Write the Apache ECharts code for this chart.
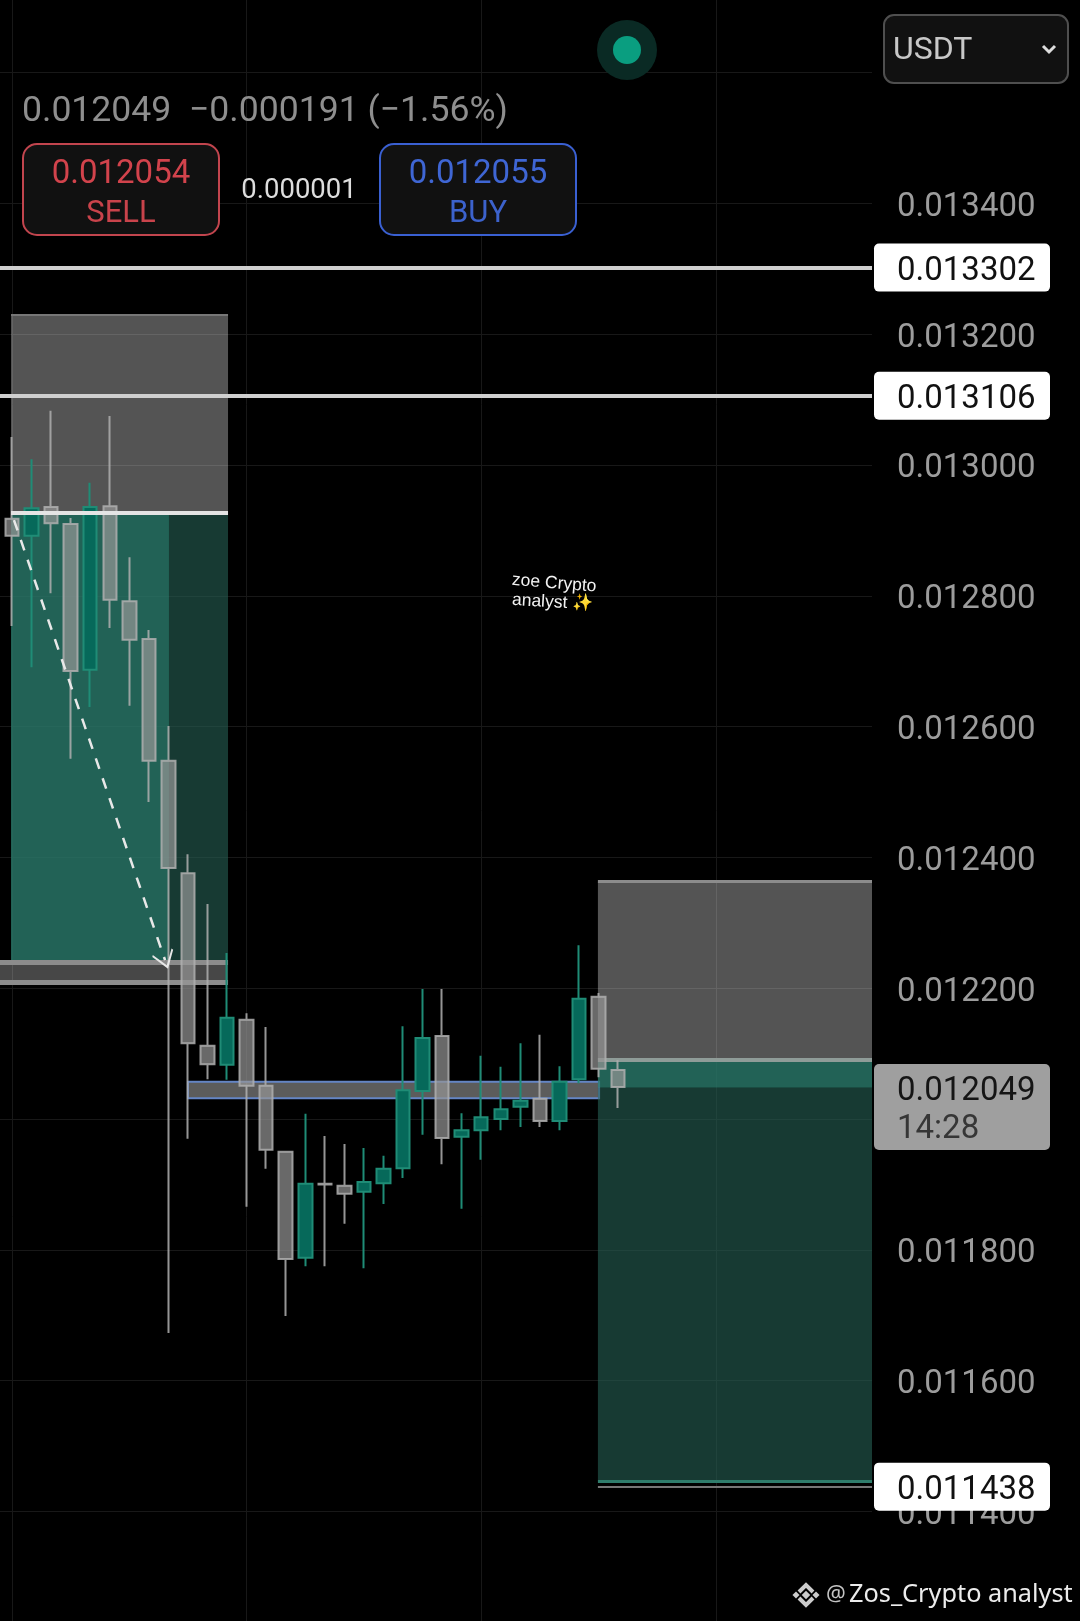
<!DOCTYPE html>
<html lang="en">
<head>
    <meta charset="UTF-8">
    <title>Zoe Crypto chart</title>
    <style>
        html, body {margin: 0; padding: 0; background: #000;}
        #main {width: 1080px; height: 1621px;}
    </style>
</head>
<body>
<div id="main"></div>
<script src="https://cdn.jsdelivr.net/npm/echarts@6/dist/echarts.min.js"></script>
<script>
    var opens  = [0.012918, 0.012892, 0.012936, 0.012910, 0.012687, 0.012937, 0.012792, 0.012734, 0.012548, 0.012376, 0.012112, 0.012083, 0.012152, 0.012051, 0.011950, 0.011788, 0.011901, 0.011898, 0.011889, 0.011902, 0.011925, 0.012043, 0.012127, 0.011973, 0.011983, 0.012000, 0.012019, 0.012031, 0.011997, 0.012061, 0.012187, 0.012075];
    var closes = [0.012892, 0.012934, 0.012911, 0.012685, 0.012936, 0.012794, 0.012733, 0.012548, 0.012384, 0.012116, 0.012084, 0.012155, 0.012051, 0.011953, 0.011786, 0.011901, 0.011900, 0.011886, 0.011904, 0.011924, 0.012044, 0.012124, 0.011971, 0.011983, 0.012003, 0.012015, 0.012028, 0.011997, 0.012057, 0.012184, 0.012077, 0.012049];
    var lows   = [0.012754, 0.012691, 0.012804, 0.012551, 0.012630, 0.012751, 0.012632, 0.012485, 0.011673, 0.011970, 0.012061, 0.012060, 0.011866, 0.011924, 0.011699, 0.011775, 0.011775, 0.011840, 0.011772, 0.011870, 0.011910, 0.011976, 0.011931, 0.011863, 0.011938, 0.011983, 0.011988, 0.011988, 0.011983, 0.012055, 0.012064, 0.012017];
    var highs  = [0.013043, 0.013009, 0.013083, 0.012919, 0.012973, 0.013075, 0.012859, 0.012748, 0.012601, 0.012405, 0.012329, 0.012254, 0.012162, 0.012141, 0.011950, 0.012008, 0.011974, 0.011962, 0.011956, 0.011944, 0.012142, 0.012199, 0.012199, 0.012009, 0.012097, 0.012080, 0.012116, 0.012129, 0.012081, 0.012266, 0.012193, 0.012090];

    // horizontal price lines with a white tag on the scale
    var priceLines = [0.013302, 0.013106];
    var lastPrice = 0.012049;
    var lastCountdown = '14:28';
    var targetPrice = 0.011438;

    // left position: [from bar, to bar, split bar], prices top to bottom
    var leftBars = [-0.05, 11.05, 8.03];
    var leftPrices = [0.013230, 0.012927, 0.012240];
    var leftBand = [0.012240, 0.012209];
    // blue support band
    var blueBars = [9, 30.03];
    var bluePrices = [0.012057, 0.012032];
    // right position
    var rightBar = 29.97;
    var rightPrices = [0.012363, 0.012090, 0.012048, 0.011447];

    // dashed arrow: [bar, price]
    var arrowFrom = [0.1, 0.012916];
    var arrowTo = [7.83, 0.012243];

    var gridBars = [0, 12, 24, 36];

    // highest tick label the app shows, the next one is behind the selector
    var topLabel = 0.0134;

    // scale: bar i sits at 12 + 19.55 * i, plot runs 0..872
    var xMin = -12 / 19.55;
    var xMax = 860 / 19.55;

    var font = 'Roboto';
    var candles = opens.map(function (o, i) {
        return [i, o, closes[i], lows[i], highs[i]];
    });

    function tag(value, text, bg, padding, rich, offset) {
        return {
            yAxis: value,
            lineStyle: {color: 'transparent', width: 0},
            label: {
                show: true,
                position: 'end',
                distance: 2,
                opacity: 1,
                formatter: text,
                backgroundColor: bg,
                borderRadius: 5,
                fontFamily: font,
                fontSize: 33,
                color: '#111',
                align: 'left',
                verticalAlign: 'middle',
                padding: padding,
                width: 140,
                rich: rich,
                offset: offset || [0, 0]
            }
        };
    }

    function seg(x1, y1, x2, y2, color, width) {
        return [
            {coord: [x1, y1], lineStyle: {color: color, width: width, type: 'solid', opacity: 1}},
            {coord: [x2, y2]}
        ];
    }

    function area(x1, y1, x2, y2, color, border, bw) {
        return [
            {coord: [x1, y1], itemStyle: {color: color, borderColor: border || 'transparent', borderWidth: bw || 0}},
            {coord: [x2, y2]}
        ];
    }

    var tagRich = {t: {fontFamily: font, fontSize: 33, color: '#111', lineHeight: 33, width: 140}};
    var tagPad = [11.5, 13, 3.5, 23];
    var priceTags = priceLines.map(function (p) {
        return tag(p, '{t|' + p.toFixed(6) + '}', '#fff', tagPad, tagRich);
    });
    priceTags.push(tag(targetPrice, '{t|' + targetPrice.toFixed(6) + '}', '#fff', tagPad, tagRich));
    priceTags.push(tag(lastPrice, '{a|' + lastPrice.toFixed(6) + '}\n{b|' + lastCountdown + '}', '#9f9f9f', [9, 13, 1, 23], {
        a: {fontFamily: font, fontSize: 33, color: '#151515', lineHeight: 38, width: 140},
        b: {fontFamily: font, fontSize: 33, color: '#363636', lineHeight: 38, width: 140}
    }, [0, 20]));

    var option = {
        backgroundColor: '#000',
        animation: false,
        grid: {left: 0, right: 208, top: -188.9, height: 1962, outerBoundsMode: 'none', containLabel: false},
        xAxis: {
            type: 'value',
            min: xMin,
            max: xMax,
            show: false,
            splitLine: {show: false}
        },
        yAxis: {
            type: 'value',
            position: 'right',
            min: 0.011,
            max: 0.014,
            interval: 0.0002,
            axisLine: {show: false},
            axisTick: {show: false},
            splitLine: {lineStyle: {color: '#181818', width: 1}},
            axisLabel: {
                margin: 25,
                fontFamily: font,
                fontSize: 33,
                color: '#9c9c9c',
                rich: {
                    v: {fontFamily: font, fontSize: 33, color: '#9c9c9c', lineHeight: 33, padding: [8, 0, 0, 0]}
                },
                formatter: function (v) {
                    return v > topLabel + 0.00001 ? '' : '{v|' + v.toFixed(6) + '}';
                }
            }
        },
        series: [
            {
                // vertical grid lines
                type: 'line',
                data: [],
                z: 1,
                silent: true,
                markLine: {
                    z: 1,
                    silent: true,
                    symbol: 'none',
                    label: {show: false},
                    lineStyle: {color: '#181818', width: 1, type: 'solid'},
                    data: gridBars.map(function (b) {
                        return {xAxis: b};
                    })
                }
            },
            {
                // position zones
                type: 'line',
                data: [],
                z: 2,
                silent: true,
                markArea: {
                    z: 2,
                    silent: true,
                    data: [
                        area(leftBars[0], leftPrices[0], leftBars[1], leftPrices[1], 'rgba(255,255,255,0.33)'),
                        area(leftBars[0], leftPrices[1], leftBars[2], leftPrices[2], 'rgba(42,122,107,0.8)'),
                        area(leftBars[2], leftPrices[1], leftBars[1], leftPrices[2], 'rgba(38,96,85,0.6)'),
                        area(xMin, leftBand[0], leftBars[1], leftBand[1], 'rgba(255,255,255,0.28)'),
                        area(blueBars[0], bluePrices[0], blueBars[1], bluePrices[1], 'rgba(255,255,255,0.36)', '#6485c5', 2),
                        area(rightBar, rightPrices[0], xMax, rightPrices[1], 'rgba(255,255,255,0.33)'),
                        area(rightBar, rightPrices[1], xMax, rightPrices[2], 'rgba(42,122,107,0.8)'),
                        area(rightBar, rightPrices[2], xMax, rightPrices[3], 'rgba(38,96,85,0.6)')
                    ]
                },
                markLine: {
                    z: 3,
                    silent: true,
                    symbol: 'none',
                    label: {show: false},
                    data: [
                        seg(leftBars[0], leftPrices[0], leftBars[1], leftPrices[0], '#777', 2),
                        seg(xMin, leftBand[0], leftBars[1], leftBand[0], '#8c8c8c', 5),
                        seg(xMin, leftBand[1], leftBars[1], leftBand[1], '#8c8c8c', 5),
                        seg(rightBar, rightPrices[0], xMax, rightPrices[0], '#8c8c8c', 3),
                        seg(rightBar, rightPrices[1], xMax, rightPrices[1], '#8f9c98', 4),
                        seg(rightBar, rightPrices[3], xMax, rightPrices[3], '#2f7c6b', 3),
                        seg(rightBar, targetPrice, xMax, targetPrice, '#777', 2)
                    ]
                }
            },
            {
                name: 'price',
                type: 'candlestick',
                data: candles,
                z: 5,
                barWidth: 14,
                clip: false,
                itemStyle: {
                    color: '#06695a',
                    borderColor: '#1f8c76',
                    color0: 'rgba(150,150,150,0.7)',
                    borderColor0: 'rgba(175,175,175,0.85)',
                    borderWidth: 2
                }
            },
            {
                // drawn lines and tags on top of the candles
                type: 'line',
                data: [],
                z: 8,
                silent: true,
                markLine: {
                    z: 8,
                    silent: true,
                    precision: 6,
                    symbol: 'none',
                    label: {show: false},
                    data: [
                        seg(leftBars[0], leftPrices[1], leftBars[1], leftPrices[1], '#e4e4e4', 4)
                    ].concat(priceLines.map(function (p) {
                        return {yAxis: p, lineStyle: {color: '#cfcfcf', width: 4, type: 'solid'}};
                    })).concat(priceTags)
                }
            },
            {
                // dashed move arrow
                type: 'line',
                data: [],
                z: 9,
                silent: true,
                markLine: {
                    z: 9,
                    silent: true,
                    symbol: ['none', 'path://M-10,9 L0,0 L10,9 L9,10 L0,2 L-9,10 Z'],
                    symbolSize: [22, 18],
                    label: {show: false},
                    data: [[
                        {coord: arrowFrom, lineStyle: {color: '#e8e8e8', width: 2.5, type: [11, 10]}},
                        {coord: arrowTo}
                    ]]
                }
            }
        ],
        graphic: [
            // pulse dot
            {type: 'circle', z: 100, shape: {cx: 627, cy: 50, r: 30}, style: {fill: '#0a2a24'}},
            {type: 'circle', z: 101, shape: {cx: 627, cy: 50, r: 14}, style: {fill: '#0a9e80'}},
            // currency selector
            {type: 'rect', z: 100, shape: {x: 884, y: 15, width: 184, height: 68, r: 10}, style: {fill: '#111', stroke: '#4f4f4f', lineWidth: 2}},
            {type: 'text', z: 101, x: 893, y: 51, style: {text: 'USDT', fontFamily: font, fontSize: 32, fill: '#c8c8c8', verticalAlign: 'middle'}},
            {type: 'polyline', z: 101, shape: {points: [[1043, 46], [1049, 52], [1055, 46]]}, style: {fill: 'none', stroke: '#ddd', lineWidth: 3}},
            // quote
            {type: 'text', z: 100, x: 22, y: 112, style: {text: '0.012049  \u22120.000191 (\u22121.56%)', fontFamily: font, fontSize: 35.6, fill: '#8e8e8e', verticalAlign: 'middle'}},
            {type: 'rect', z: 100, shape: {x: 23, y: 144, width: 196, height: 91, r: 14}, style: {fill: '#111', stroke: '#c2454e', lineWidth: 2}},
            {type: 'text', z: 101, x: 121, y: 175, style: {text: '0.012054', fontFamily: font, fontSize: 33, fill: '#d2434c', align: 'center', verticalAlign: 'middle'}},
            {type: 'text', z: 101, x: 121, y: 214, style: {text: 'SELL', fontFamily: font, fontSize: 31, fill: '#c9434b', align: 'center', verticalAlign: 'middle'}},
            {type: 'text', z: 100, x: 299, y: 191, style: {text: '0.000001', fontFamily: font, fontSize: 27.5, fill: '#dedede', align: 'center', verticalAlign: 'middle'}},
            {type: 'rect', z: 100, shape: {x: 380, y: 144, width: 196, height: 91, r: 14}, style: {fill: '#111', stroke: '#3a60d2', lineWidth: 2}},
            {type: 'text', z: 101, x: 478, y: 175, style: {text: '0.012055', fontFamily: font, fontSize: 33, fill: '#3f66d4', align: 'center', verticalAlign: 'middle'}},
            {type: 'text', z: 101, x: 478, y: 214, style: {text: 'BUY', fontFamily: font, fontSize: 31, fill: '#3c62cc', align: 'center', verticalAlign: 'middle'}},
            // drawn note
            {type: 'text', z: 100, x: 512, y: 580, rotation: -0.08, style: {text: 'zoe Crypto', fontFamily: 'Liberation Sans', fontSize: 17.5, fill: '#f2f2f2', verticalAlign: 'middle'}},
            {type: 'text', z: 100, x: 512, y: 600, rotation: -0.06, style: {text: 'analyst', fontFamily: 'Liberation Sans', fontSize: 17.5, fill: '#f2f2f2', verticalAlign: 'middle'}},
            {type: 'text', z: 100, x: 572, y: 604, style: {text: '\u2728', fontFamily: 'DejaVu Sans', fontSize: 17, fill: '#f3dc8c', verticalAlign: 'middle'}},
            // watermark
            {type: 'polyline', z: 100, shape: {points: [[799, 1592], [806, 1585], [813, 1592]]}, style: {fill: 'none', stroke: '#ccc', lineWidth: 4}},
            {type: 'polyline', z: 100, shape: {points: [[799, 1598], [806, 1605], [813, 1598]]}, style: {fill: 'none', stroke: '#ccc', lineWidth: 4}},
            {type: 'rect', z: 100, x: 806, y: 1595, rotation: Math.PI / 4, shape: {x: -3, y: -3, width: 6, height: 6}, style: {fill: '#ccc'}},
            {type: 'rect', z: 100, x: 796, y: 1595, rotation: Math.PI / 4, shape: {x: -2.5, y: -2.5, width: 5, height: 5}, style: {fill: '#ccc'}},
            {type: 'rect', z: 100, x: 816, y: 1595, rotation: Math.PI / 4, shape: {x: -2.5, y: -2.5, width: 5, height: 5}, style: {fill: '#ccc'}},
            {type: 'text', z: 100, x: 826, y: 1595, style: {text: '@', fontFamily: 'Noto Sans', fontSize: 22, fill: '#c4c4c4', verticalAlign: 'middle'}},
            {type: 'text', z: 100, x: 849, y: 1595, style: {text: 'Zos_Crypto analyst', fontFamily: 'Noto Sans', fontSize: 25.3, fill: '#ececec', verticalAlign: 'middle'}}
        ]
    };

    var myChart = echarts.init(document.getElementById('main'));
    myChart.setOption(option);
</script>
</body>
</html>
